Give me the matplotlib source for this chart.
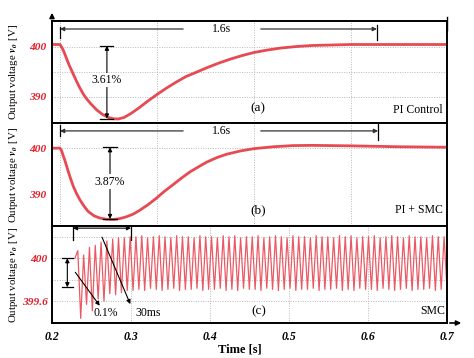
import numpy as np
import matplotlib
matplotlib.use("Agg")
import matplotlib.pyplot as plt

plt.rcParams['font.family'] = ['Liberation Serif', 'DejaVu Serif']
plt.rcParams['mathtext.fontset'] = 'stix'

# ---------------- data ----------------
# Panel (a): PI control, time since load step [s] and output voltage [V]
pi_t = [-0.041, 0.0, 0.01, 0.02, 0.03, 0.045, 0.06, 0.08, 0.10, 0.12, 0.14, 0.16, 0.19,
        0.22, 0.25, 0.275, 0.30, 0.33, 0.37, 0.41, 0.45, 0.50, 0.55, 0.60, 0.65, 0.70,
        0.76, 0.82, 0.88, 0.94, 1.0, 1.07, 1.14, 1.22, 1.3, 1.4, 1.5, 1.7, 1.995]
pi_v = [400.5, 400.5, 399.9, 399.1, 398.1, 396.6, 395.3, 393.6, 392.0, 390.6, 389.5, 388.6,
        387.4, 386.5, 385.9, 385.65, 385.6, 385.9, 386.8, 387.9, 389.1, 390.5, 391.8, 393.0,
        394.1, 394.9, 395.9, 396.8, 397.6, 398.3, 398.9, 399.4, 399.8, 400.1, 400.3, 400.4,
        400.5, 400.5, 400.5]

# Panel (b): PI + SMC
pismc_t = [-0.041, 0.0, 0.008, 0.015, 0.025, 0.034, 0.045, 0.057, 0.069, 0.085, 0.103,
           0.125, 0.146, 0.175, 0.206, 0.24, 0.275, 0.31, 0.344, 0.38, 0.412, 0.455, 0.498,
           0.54, 0.584, 0.627, 0.67, 0.71, 0.756, 0.81, 0.859, 0.93, 1.0, 1.1, 1.2, 1.3,
           1.5, 1.75, 1.995]
pismc_v = [400.0, 400.0, 399.5, 398.6, 397.4, 396.2, 394.7, 393.2, 391.8, 390.3, 388.9,
           387.5, 386.4, 385.5, 385.0, 384.75, 384.7, 384.9, 385.3, 385.9, 386.7, 387.9, 389.3,
           390.8, 392.2, 393.6, 394.9, 395.9, 397.0, 398.0, 398.7, 399.4, 399.9, 400.3, 400.55,
           400.6, 400.5, 400.3, 400.2]

# Panel (c): SMC, chattering oscillation peaks / troughs [V]
smc_t_start, smc_t_end = 0.229, 0.7
smc_v_start = 400.0
smc_peaks = [400.07, 400.03, 400.10, 400.12, 400.15, 400.16, 400.18, 400.19, 400.19, 400.20,
             400.20, 400.21, 400.19, 400.20, 400.21, 400.20, 400.19, 400.21, 400.20, 400.20,
             400.19, 400.21, 400.20, 400.20, 400.19, 400.21, 400.20, 400.21, 400.19, 400.20,
             400.20, 400.21, 400.19, 400.20, 400.21, 400.20, 400.19, 400.21, 400.20, 400.20,
             400.19, 400.21, 400.20, 400.20, 400.19, 400.21, 400.20, 400.21, 400.19, 400.20,
             400.20, 400.21, 400.19, 400.20, 400.21, 400.20, 400.19, 400.21, 400.20, 400.20,
             400.19, 400.21, 400.20, 400.20]
smc_troughs = [399.44, 399.57, 399.51, 399.62, 399.60, 399.67, 399.66, 399.68, 399.70, 399.70,
               399.71, 399.70, 399.72, 399.71, 399.70, 399.71, 399.72, 399.70, 399.71, 399.71,
               399.72, 399.70, 399.71, 399.71, 399.72, 399.70, 399.71, 399.70, 399.72, 399.71,
               399.71, 399.70, 399.72, 399.71, 399.70, 399.71, 399.72, 399.70, 399.71, 399.71,
               399.72, 399.70, 399.71, 399.71, 399.72, 399.70, 399.71, 399.70, 399.72, 399.71,
               399.71, 399.70, 399.72, 399.71, 399.70, 399.71, 399.72, 399.70, 399.71, 399.71,
               399.72, 399.70, 399.71, 399.71]

ab_yticks = [390, 400]
c_xticks = [0.2, 0.3, 0.4, 0.5, 0.6, 0.7]
c_yticks = [399.6, 399.8, 400.0, 400.2]
c_yticklabels = ['399.6', '', '400', '']

# ---------------- figure ----------------
W, H = 474, 358
fig = plt.figure(figsize=(W / 100, H / 100), dpi=100)

def px_axes(x0, y0, x1, y1):
    return fig.add_axes([x0 / W, 1 - y1 / H, (x1 - x0) / W, (y1 - y0) / H])

axA = px_axes(52, 21, 447, 123)
axB = px_axes(52, 123, 447, 226)
axC = px_axes(52, 226, 447, 323)

red = '#e5363f'
grid_kw = dict(color='#b8b8b8', lw=0.7, ls=(0, (1, 1.5)))
tick_font = dict(fontsize=8.2, fontweight='bold', fontstyle='italic')
ylabel = r'Output voltage $\mathbfit{v_o}$ [V]'

for ax in (axA, axB, axC):
    for s in ax.spines.values():
        s.set_linewidth(1.4)
    ax.tick_params(length=0, pad=4)
    ax.set_ylabel(ylabel, fontsize=7.8)
    ax.yaxis.set_label_coords(-0.082, 0.5)

# Panel a
axA.plot(pi_t, pi_v, color=red, lw=2.0, alpha=0.9, solid_capstyle='butt')
axA.set_xlim(-0.041, 1.995)
axA.set_ylim(384.8, 405.2)
for xv in [0.0, 0.5, 1.0, 1.5]:
    axA.axvline(xv, zorder=0, **grid_kw)
for yv in [390, 395, 400]:
    axA.axhline(yv, zorder=0, **grid_kw)

# Panel b
axB.plot(pismc_t, pismc_v, color=red, lw=2.0, alpha=0.9, solid_capstyle='butt')
axB.set_xlim(-0.041, 1.995)
axB.set_ylim(383.3, 405.4)
for xv in [0.0, 0.5, 1.0, 1.5]:
    axB.axvline(xv, zorder=0, **grid_kw)
axB.axhline(400, zorder=0, **grid_kw)

for ax in (axA, axB):
    ax.set_xticks([])
    ax.set_yticks(ab_yticks)
    ax.set_yticklabels([str(v) for v in ab_yticks], color='#e0202a', **tick_font)

# Panel c
smc_vals = [smc_v_start]
for p, tr in zip(smc_peaks, smc_troughs):
    smc_vals += [p, tr]
smc_t = np.linspace(smc_t_start, smc_t_end, len(smc_vals))
axC.plot(smc_t, smc_vals, color='#ea5a64', lw=0.9)
axC.set_xlim(0.2, 0.7)
axC.set_ylim(399.397, 400.3)
for xv in [0.3, 0.4, 0.5, 0.6]:
    axC.axvline(xv, zorder=0, **grid_kw)
for yv in c_yticks:
    axC.axhline(yv, zorder=0, **grid_kw)
axC.set_yticks(c_yticks)
axC.set_yticklabels(c_yticklabels, color='#e0202a', **tick_font)
axC.tick_params(axis='y', pad=3)
axC.set_xticks(c_xticks)
axC.set_xticklabels([f'{v:.1f}' for v in c_xticks], fontsize=8.5,
                    fontweight='bold', fontstyle='italic')
axC.tick_params(axis='x', pad=6)
fig.text(240 / W, 1 - 350 / H, 'Time [s]', fontsize=9, fontweight='bold',
         ha='center', va='center')

# ---------------- annotations ----------------
ak = dict(color='k', lw=0.8, shrinkA=0, shrinkB=0, mutation_scale=6)
txt = dict(fontsize=8.5, ha='center', va='center')

def span_arrow(ax, x0, x1, xt, y, bar0, bar1, gap):
    ax.plot([x0, x0], bar0, color='k', lw=0.9)
    ax.plot([x1, x1], bar1, color='k', lw=0.9)
    ax.annotate('', xy=(x0, y), xytext=(xt - gap[0], y),
                arrowprops=dict(arrowstyle='-|>', color='#333333', lw=0.9,
                                shrinkA=0, shrinkB=0, mutation_scale=6))
    ax.annotate('', xy=(x1, y), xytext=(xt + gap[1], y),
                arrowprops=dict(arrowstyle='-|>', color='#333333', lw=0.9,
                                shrinkA=0, shrinkB=0, mutation_scale=6))
    ax.text(xt, y, '1.6s', **txt)

def drop_arrow(ax, x, xb0, xb1, ytop, ybot, ytxt, label):
    ax.plot([xb0, xb1], [ytop, ytop], color='k', lw=0.9)
    ax.plot([xb0, xb1], [ybot, ybot], color='k', lw=0.9)
    ax.annotate('', xy=(x, ybot), xytext=(x, ytop),
                arrowprops=dict(arrowstyle='<|-|>', **ak))
    ax.text(x, ytxt, label, bbox=dict(fc='white', ec='none', pad=1.0), **txt)

span_arrow(axA, 0.0, 1.634, 0.835, 403.6, [401.8, 404.0], [401.4, 404.4], (0.2, 0.2))
drop_arrow(axA, 0.242, 0.206, 0.273, 400.26, 385.7, 393.4, '3.61%')
axA.text(1.02, 387.8, '(a)', fontsize=9.5, ha='center', va='center')
axA.text(1.974, 387.4, 'PI Control', fontsize=8.5, ha='right', va='center')

span_arrow(axB, 0.0, 1.64, 0.835, 403.7, [402.6, 405.0], [401.7, 405.2], (0.2, 0.2))
drop_arrow(axB, 0.258, 0.222, 0.294, 400.2, 384.8, 392.8, '3.87%')
axB.text(1.02, 386.7, '(b)', fontsize=9.5, ha='center', va='center')
axB.text(1.974, 386.7, 'PI + SMC', fontsize=8.5, ha='right', va='center')

# Panel c annotations
axC.plot([0.2266, 0.2266], [400.17, 400.30], color='k', lw=0.9, clip_on=False)
axC.plot([0.300, 0.300], [400.17, 400.30], color='k', lw=0.9, clip_on=False)
axC.annotate('', xy=(0.2266, 400.28), xytext=(0.300, 400.28),
             arrowprops=dict(arrowstyle='<|-|>', **ak))
axC.plot([0.2122, 0.2266], [400.0, 400.0], color='k', lw=0.9)
axC.plot([0.2122, 0.2266], [399.73, 399.73], color='k', lw=0.9)
axC.annotate('', xy=(0.2194, 399.73), xytext=(0.2194, 400.0),
             arrowprops=dict(arrowstyle='<|-|>', **ak))
axC.annotate('', xy=(0.2604, 399.558), xytext=(0.2295, 399.869),
             arrowprops=dict(arrowstyle='-|>', **ak))
axC.annotate('', xy=(0.2991, 399.573), xytext=(0.2633, 400.196),
             arrowprops=dict(arrowstyle='-|>', **ak))
axC.text(0.2675, 399.49, '0.1%', **txt)
axC.text(0.3215, 399.49, '30ms', **txt)
axC.text(0.462, 399.505, '(c)', fontsize=9.5, ha='center', va='center')
axC.text(0.6975, 399.505, 'SMC', fontsize=8.5, ha='right', va='center')

# axis arrows on the outer frame
fig.add_artist(matplotlib.patches.FancyArrowPatch(
    (52 / W, 1 - 21 / H), (52 / W, 1 - 10 / H), transform=fig.transFigure,
    arrowstyle='-|>', mutation_scale=7, color='k', lw=1.2))
fig.add_artist(matplotlib.patches.FancyArrowPatch(
    (447 / W, 1 - 323 / H), (464 / W, 1 - 323 / H), transform=fig.transFigure,
    arrowstyle='-|>', mutation_scale=7, color='k', lw=1.2))
fig.add_artist(matplotlib.lines.Line2D([447 / W, 447 / W], [1 - 17 / H, 1 - 30 / H],
                                       transform=fig.transFigure, color='k', lw=1.0))

fig.savefig('out.png', dpi=100)
